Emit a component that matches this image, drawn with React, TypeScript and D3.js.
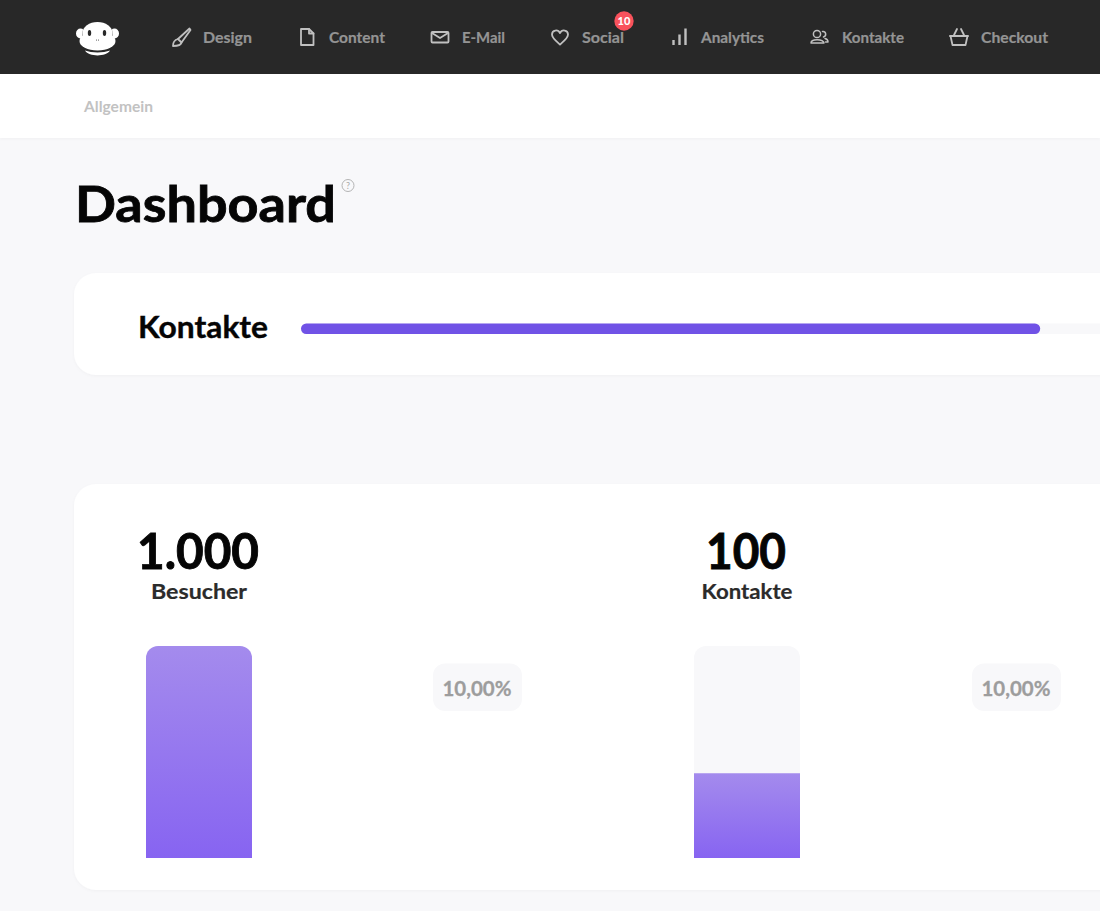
import React from "react";
import * as d3 from "d3";

const navLabels = ["Design", "Content", "E-Mail", "Social", "Analytics", "Kontakte", "Checkout"];
const navTextX = [203, 329, 462, 582, 701, 842, 981];
const navTextW = [49, 56, 43, 42, 63, 62, 67];
const navBadge = "10";
const subNav = "Allgemein";
const pageTitle = "Dashboard";
const progressLabel = "Kontakte";
const progressValue = [80];
const metricValues = ["1.000", "100"];
const metricLabels = ["Besucher", "Kontakte"];
const barFill = [100, 40];
const rates = ["10,00%", "10,00%"];

const font = "Lato, 'Open Sans', sans-serif";

function Icon({ i }: { i: number }) {
  const s = { fill: "none", stroke: "#c0c0c0", strokeWidth: 1.8, strokeLinecap: "round" as const, strokeLinejoin: "round" as const };
  if (i === 0) return <g {...s}><path d="M189.5 28.5 L178 39 L181.5 42.5 L190.5 30 Z" /><path d="M178 39 C174 40 173 43 173 46 C177 46 181 45.5 181.5 42.5" /></g>;
  if (i === 1) return <g {...s}><path d="M301 29 H309 L313.5 33.5 V45 H301 Z" /><path d="M309 29 V33.5 H313.5" /></g>;
  if (i === 2) return <g {...s}><rect x="431.5" y="32" width="17" height="10.5" rx="1" /><path d="M432 33 L440 38 L448 33" /></g>;
  if (i === 3) return <path {...s} d="M560 44.5 C556 41 552 38 552 34.5 C552 30 558 29 560 33 C562 29 568 30 568 34.5 C568 38 564 41 560 44.5 Z" />;
  if (i === 4) return <g {...s} strokeWidth={2.4} strokeLinecap="butt"><path d="M673.5 45 V40" /><path d="M679.5 45 V34.5" /><path d="M685.5 45 V28.5" /></g>;
  if (i === 5) return <g {...s} strokeWidth={1.5}><circle cx="817" cy="34" r="3.6" /><path d="M811 43 C811 38.5 823 38.5 824 43 Z" /><path d="M822.5 31.5 C826 31 827 36 823.5 37 M825 38.5 C827 39 828 40.5 828 42 H825.5" /></g>;
  return <g {...s}><path d="M950.5 36 H967.5 L965.5 45 H952.5 Z" /><path d="M950 36 H968" /><path d="M954 35 L957 29 M964 35 L961 29" /></g>;
}

export default function App() {
  const y = d3.scaleLinear().domain([0, 100]).range([858, 646]);
  const px = d3.scaleLinear().domain([0, 100]).range([301, 1225]);
  const barX = d3.scaleOrdinal<number, number>().domain([0, 1]).range([146, 694]);
  const chipX = d3.scaleOrdinal<number, number>().domain([0, 1]).range([433, 972]);
  const barW = 106;
  const centers = [199, 747];

  const topRound = (x: number, top: number, w: number, bottom: number, r: number) => {
    const p = d3.path();
    p.moveTo(x, bottom);
    p.lineTo(x, top + r);
    p.arcTo(x, top, x + r, top, r);
    p.lineTo(x + w - r, top);
    p.arcTo(x + w, top, x + w, top + r, r);
    p.lineTo(x + w, bottom);
    p.closePath();
    return p.toString();
  };

  return (
    <svg width={1100} height={911} viewBox="0 0 1100 911" style={{ position: "absolute", left: 0, top: 0, display: "block" }} fontFamily={font}>
      <defs>
        <linearGradient id="barGrad" x1="0" y1="0" x2="0" y2="1">
          <stop offset="0" stopColor="#a48bed" />
          <stop offset="1" stopColor="#8764f1" />
        </linearGradient>
        <filter id="soft" x="-5%" y="-20%" width="110%" height="140%">
          <feDropShadow dx="0" dy="1" stdDeviation="1.5" floodColor="#000" floodOpacity="0.03" />
        </filter>
      </defs>
      <rect width={1100} height={911} fill="#f8f8fa" />

      <rect width={1100} height={138} y={0} fill="#fff" filter="url(#soft)" />
      <rect width={1100} height={74} fill="#282828" />

      {/* logo */}
      <g fill="#fff">
        <ellipse cx="80.5" cy="33.5" rx="4.5" ry="5" />
        <ellipse cx="114.5" cy="33.5" rx="4.5" ry="5" />
      </g>
      <g fill="#282828">
        <ellipse cx="84.5" cy="34" rx="2" ry="6" />
        <ellipse cx="110.5" cy="34" rx="2" ry="6" />
      </g>
      <g fill="#fff">
        <ellipse cx="97.5" cy="33" rx="15" ry="11" />
        <ellipse cx="97.5" cy="41" rx="18" ry="9.5" />
        <path d="M85 50.5 C92 53 103 53 110 50.5 C106 57 89 57 85 50.5 Z" />
      </g>
      <g fill="#282828">
        <ellipse cx="89.5" cy="33" rx="1.7" ry="3" />
        <ellipse cx="104.5" cy="33" rx="1.7" ry="3" />
        <circle cx="96.5" cy="40" r="0.5" />
        <circle cx="98.5" cy="40" r="0.5" />
      </g>

      {navLabels.map((l, i) => (
        <g key={l}>
          <Icon i={i} />
          <text x={navTextX[i]} y={42.5} fontSize={14.5} fontWeight={700} fill="#949494" stroke="#949494" strokeWidth={0.2} textLength={navTextW[i]} lengthAdjust="spacingAndGlyphs">{l}</text>
        </g>
      ))}
      <circle cx="624" cy="21" r="9.7" fill="#f9525c" />
      <text x="624" y="25" textAnchor="middle" fontSize={11} fontWeight={900} fill="#fff">{navBadge}</text>

      <text x="84" y="112" fontSize={14.5} fontWeight={700} fill="#c2c2c2" textLength={69} lengthAdjust="spacingAndGlyphs">{subNav}</text>

      <text x="75" y="222" fontSize={50} fontWeight={700} fill="#050505" stroke="#050505" strokeWidth={0.8} textLength={261} lengthAdjust="spacingAndGlyphs">{pageTitle}</text>
      <circle cx="348" cy="185.5" r="6" fill="none" stroke="#b4b4b4" strokeWidth={1} />
      <text x="348" y="189" textAnchor="middle" fontSize={9} fill="#a8a8a8">?</text>

      {/* progress card */}
      <rect x="74" y="273" width="1100" height="102" rx="22" fill="#fff" filter="url(#soft)" />
      <text x="138" y="338" fontSize={30} fontWeight={700} fill="#050505" stroke="#050505" strokeWidth={0.4} textLength={130} lengthAdjust="spacingAndGlyphs">{progressLabel}</text>
      <rect x={px(0)} y="323.5" width={px(100) - px(0)} height="10.5" rx="5.25" fill="#f8f8fa" />
      <rect x={px(0)} y="323.5" width={px(progressValue[0]) - px(0)} height="10.5" rx="5.25" fill="#7052e6" />

      {/* metric card */}
      <rect x="74" y="484" width="1100" height="406" rx="22" fill="#fff" filter="url(#soft)" />
      {metricValues.map((v, i) => {
        const bx = barX(i);
        const cx = chipX(i);
        return (
          <g key={i}>
            <text x={centers[i] - 1} y={569} textAnchor="middle" fontSize={50} fontWeight={700} fill="#050505" stroke="#050505" strokeWidth={0.9} textLength={i === 0 ? 122 : 80} lengthAdjust="spacingAndGlyphs">{v}</text>
            <text x={centers[i]} y={599} textAnchor="middle" fontSize={21.5} fontWeight={700} fill="#2b2b2b" stroke="#2b2b2b" strokeWidth={0.2} textLength={i === 0 ? 96 : 91} lengthAdjust="spacingAndGlyphs">{metricLabels[i]}</text>
            <path d={topRound(bx, y(100), barW, y(0), 12)} fill="#f8f8fa" />
            <path d={barFill[i] >= 100 ? topRound(bx, y(barFill[i]), barW, y(0), 12) : topRound(bx, y(barFill[i]), barW, y(0), 0)} fill="url(#barGrad)" />
            <rect x={cx} y={663.5} width={89} height={47.5} rx={12} fill="#f8f8fa" />
            <text x={cx + 44} y={696} textAnchor="middle" fontSize={21} fontWeight={700} fill="#9d9d9d" stroke="#9d9d9d" strokeWidth={0.3} textLength={69} lengthAdjust="spacingAndGlyphs">{rates[i]}</text>
          </g>
        );
      })}
    </svg>
  );
}
